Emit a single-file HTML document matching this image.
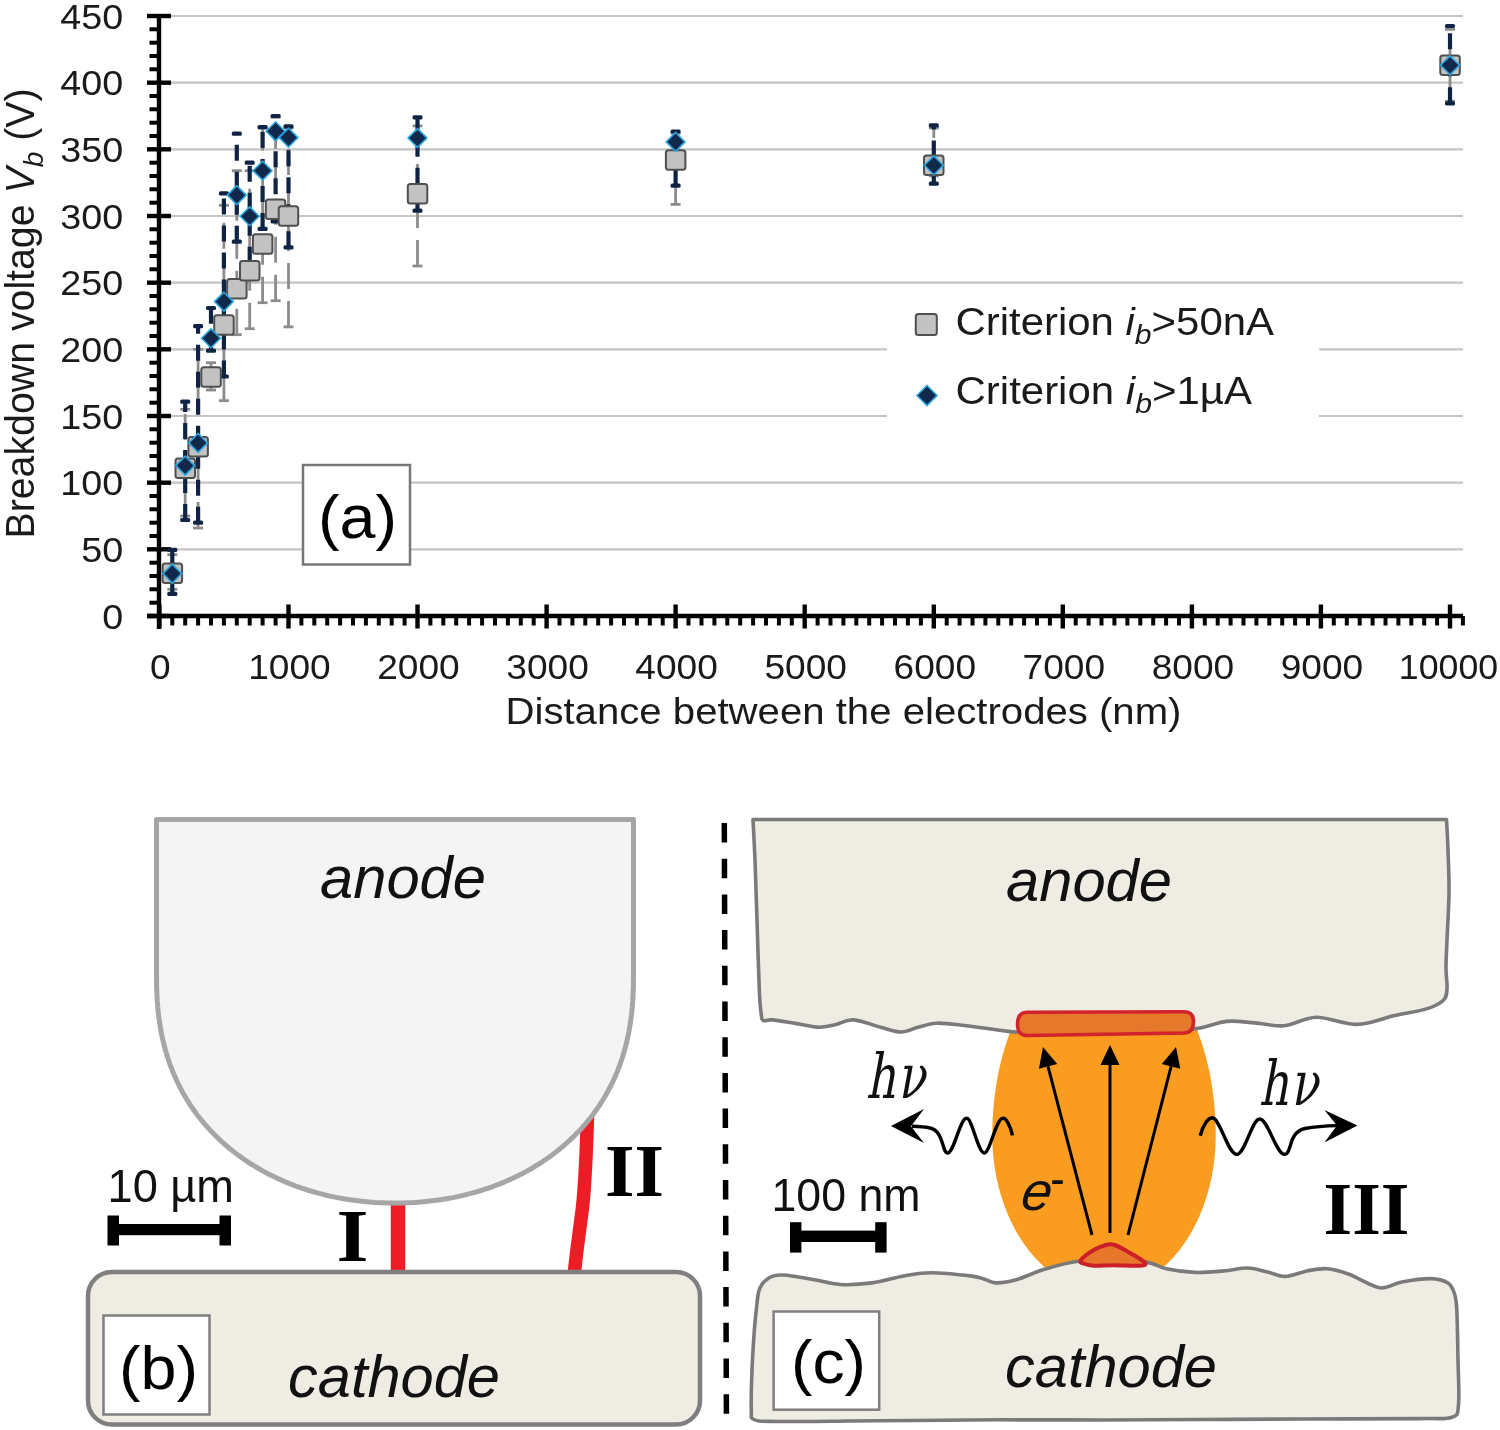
<!DOCTYPE html>
<html><head><meta charset="utf-8"><title>Breakdown voltage vs electrode distance</title>
<style>html,body{margin:0;padding:0;background:#fff;}svg{display:block;}</style></head>
<body>
<svg width="1500" height="1430" viewBox="0 0 1500 1430">
<rect width="1500" height="1430" fill="#fff"/>
<line x1="171" y1="549.3" x2="1463" y2="549.3" stroke="#c4c4c4" stroke-width="2.2"/>
<line x1="171" y1="482.7" x2="1463" y2="482.7" stroke="#c4c4c4" stroke-width="2.2"/>
<line x1="171" y1="416.0" x2="1463" y2="416.0" stroke="#c4c4c4" stroke-width="2.2"/>
<line x1="171" y1="349.3" x2="1463" y2="349.3" stroke="#c4c4c4" stroke-width="2.2"/>
<line x1="171" y1="282.7" x2="1463" y2="282.7" stroke="#c4c4c4" stroke-width="2.2"/>
<line x1="171" y1="216.0" x2="1463" y2="216.0" stroke="#c4c4c4" stroke-width="2.2"/>
<line x1="171" y1="149.3" x2="1463" y2="149.3" stroke="#c4c4c4" stroke-width="2.2"/>
<line x1="171" y1="82.7" x2="1463" y2="82.7" stroke="#c4c4c4" stroke-width="2.2"/>
<line x1="171" y1="16.0" x2="1463" y2="16.0" stroke="#c4c4c4" stroke-width="2.2"/>
<rect x="887" y="292" width="432" height="132" fill="#fff"/>
<line x1="159" y1="14" x2="159" y2="629" stroke="#000" stroke-width="4.4"/>
<line x1="147" y1="616" x2="1463" y2="616" stroke="#000" stroke-width="4.4"/>
<line x1="147" y1="616.0" x2="171" y2="616.0" stroke="#000" stroke-width="4.4"/>
<line x1="147" y1="549.3" x2="171" y2="549.3" stroke="#000" stroke-width="4.4"/>
<line x1="147" y1="482.7" x2="171" y2="482.7" stroke="#000" stroke-width="4.4"/>
<line x1="147" y1="416.0" x2="171" y2="416.0" stroke="#000" stroke-width="4.4"/>
<line x1="147" y1="349.3" x2="171" y2="349.3" stroke="#000" stroke-width="4.4"/>
<line x1="147" y1="282.7" x2="171" y2="282.7" stroke="#000" stroke-width="4.4"/>
<line x1="147" y1="216.0" x2="171" y2="216.0" stroke="#000" stroke-width="4.4"/>
<line x1="147" y1="149.3" x2="171" y2="149.3" stroke="#000" stroke-width="4.4"/>
<line x1="147" y1="82.7" x2="171" y2="82.7" stroke="#000" stroke-width="4.4"/>
<line x1="147" y1="16.0" x2="171" y2="16.0" stroke="#000" stroke-width="4.4"/>
<line x1="149.5" y1="602.7" x2="159" y2="602.7" stroke="#000" stroke-width="4"/>
<line x1="149.5" y1="589.3" x2="159" y2="589.3" stroke="#000" stroke-width="4"/>
<line x1="149.5" y1="576.0" x2="159" y2="576.0" stroke="#000" stroke-width="4"/>
<line x1="149.5" y1="562.7" x2="159" y2="562.7" stroke="#000" stroke-width="4"/>
<line x1="149.5" y1="536.0" x2="159" y2="536.0" stroke="#000" stroke-width="4"/>
<line x1="149.5" y1="522.7" x2="159" y2="522.7" stroke="#000" stroke-width="4"/>
<line x1="149.5" y1="509.3" x2="159" y2="509.3" stroke="#000" stroke-width="4"/>
<line x1="149.5" y1="496.0" x2="159" y2="496.0" stroke="#000" stroke-width="4"/>
<line x1="149.5" y1="469.3" x2="159" y2="469.3" stroke="#000" stroke-width="4"/>
<line x1="149.5" y1="456.0" x2="159" y2="456.0" stroke="#000" stroke-width="4"/>
<line x1="149.5" y1="442.7" x2="159" y2="442.7" stroke="#000" stroke-width="4"/>
<line x1="149.5" y1="429.3" x2="159" y2="429.3" stroke="#000" stroke-width="4"/>
<line x1="149.5" y1="402.7" x2="159" y2="402.7" stroke="#000" stroke-width="4"/>
<line x1="149.5" y1="389.3" x2="159" y2="389.3" stroke="#000" stroke-width="4"/>
<line x1="149.5" y1="376.0" x2="159" y2="376.0" stroke="#000" stroke-width="4"/>
<line x1="149.5" y1="362.7" x2="159" y2="362.7" stroke="#000" stroke-width="4"/>
<line x1="149.5" y1="336.0" x2="159" y2="336.0" stroke="#000" stroke-width="4"/>
<line x1="149.5" y1="322.7" x2="159" y2="322.7" stroke="#000" stroke-width="4"/>
<line x1="149.5" y1="309.3" x2="159" y2="309.3" stroke="#000" stroke-width="4"/>
<line x1="149.5" y1="296.0" x2="159" y2="296.0" stroke="#000" stroke-width="4"/>
<line x1="149.5" y1="269.3" x2="159" y2="269.3" stroke="#000" stroke-width="4"/>
<line x1="149.5" y1="256.0" x2="159" y2="256.0" stroke="#000" stroke-width="4"/>
<line x1="149.5" y1="242.7" x2="159" y2="242.7" stroke="#000" stroke-width="4"/>
<line x1="149.5" y1="229.3" x2="159" y2="229.3" stroke="#000" stroke-width="4"/>
<line x1="149.5" y1="202.7" x2="159" y2="202.7" stroke="#000" stroke-width="4"/>
<line x1="149.5" y1="189.3" x2="159" y2="189.3" stroke="#000" stroke-width="4"/>
<line x1="149.5" y1="176.0" x2="159" y2="176.0" stroke="#000" stroke-width="4"/>
<line x1="149.5" y1="162.7" x2="159" y2="162.7" stroke="#000" stroke-width="4"/>
<line x1="149.5" y1="136.0" x2="159" y2="136.0" stroke="#000" stroke-width="4"/>
<line x1="149.5" y1="122.7" x2="159" y2="122.7" stroke="#000" stroke-width="4"/>
<line x1="149.5" y1="109.3" x2="159" y2="109.3" stroke="#000" stroke-width="4"/>
<line x1="149.5" y1="96.0" x2="159" y2="96.0" stroke="#000" stroke-width="4"/>
<line x1="149.5" y1="69.3" x2="159" y2="69.3" stroke="#000" stroke-width="4"/>
<line x1="149.5" y1="56.0" x2="159" y2="56.0" stroke="#000" stroke-width="4"/>
<line x1="149.5" y1="42.7" x2="159" y2="42.7" stroke="#000" stroke-width="4"/>
<line x1="149.5" y1="29.3" x2="159" y2="29.3" stroke="#000" stroke-width="4"/>
<line x1="159.4" y1="604.5" x2="159.4" y2="628.5" stroke="#000" stroke-width="4.4"/>
<line x1="288.5" y1="604.5" x2="288.5" y2="628.5" stroke="#000" stroke-width="4.4"/>
<line x1="417.5" y1="604.5" x2="417.5" y2="628.5" stroke="#000" stroke-width="4.4"/>
<line x1="546.6" y1="604.5" x2="546.6" y2="628.5" stroke="#000" stroke-width="4.4"/>
<line x1="675.6" y1="604.5" x2="675.6" y2="628.5" stroke="#000" stroke-width="4.4"/>
<line x1="804.7" y1="604.5" x2="804.7" y2="628.5" stroke="#000" stroke-width="4.4"/>
<line x1="933.8" y1="604.5" x2="933.8" y2="628.5" stroke="#000" stroke-width="4.4"/>
<line x1="1062.8" y1="604.5" x2="1062.8" y2="628.5" stroke="#000" stroke-width="4.4"/>
<line x1="1191.9" y1="604.5" x2="1191.9" y2="628.5" stroke="#000" stroke-width="4.4"/>
<line x1="1320.9" y1="604.5" x2="1320.9" y2="628.5" stroke="#000" stroke-width="4.4"/>
<line x1="1450.0" y1="604.5" x2="1450.0" y2="628.5" stroke="#000" stroke-width="4.4"/>
<line x1="172.3" y1="616" x2="172.3" y2="625.5" stroke="#000" stroke-width="4"/>
<line x1="185.2" y1="616" x2="185.2" y2="625.5" stroke="#000" stroke-width="4"/>
<line x1="198.1" y1="616" x2="198.1" y2="625.5" stroke="#000" stroke-width="4"/>
<line x1="211.0" y1="616" x2="211.0" y2="625.5" stroke="#000" stroke-width="4"/>
<line x1="223.9" y1="616" x2="223.9" y2="625.5" stroke="#000" stroke-width="4"/>
<line x1="236.8" y1="616" x2="236.8" y2="625.5" stroke="#000" stroke-width="4"/>
<line x1="249.7" y1="616" x2="249.7" y2="625.5" stroke="#000" stroke-width="4"/>
<line x1="262.6" y1="616" x2="262.6" y2="625.5" stroke="#000" stroke-width="4"/>
<line x1="275.6" y1="616" x2="275.6" y2="625.5" stroke="#000" stroke-width="4"/>
<line x1="301.4" y1="616" x2="301.4" y2="625.5" stroke="#000" stroke-width="4"/>
<line x1="314.3" y1="616" x2="314.3" y2="625.5" stroke="#000" stroke-width="4"/>
<line x1="327.2" y1="616" x2="327.2" y2="625.5" stroke="#000" stroke-width="4"/>
<line x1="340.1" y1="616" x2="340.1" y2="625.5" stroke="#000" stroke-width="4"/>
<line x1="353.0" y1="616" x2="353.0" y2="625.5" stroke="#000" stroke-width="4"/>
<line x1="365.9" y1="616" x2="365.9" y2="625.5" stroke="#000" stroke-width="4"/>
<line x1="378.8" y1="616" x2="378.8" y2="625.5" stroke="#000" stroke-width="4"/>
<line x1="391.7" y1="616" x2="391.7" y2="625.5" stroke="#000" stroke-width="4"/>
<line x1="404.6" y1="616" x2="404.6" y2="625.5" stroke="#000" stroke-width="4"/>
<line x1="430.4" y1="616" x2="430.4" y2="625.5" stroke="#000" stroke-width="4"/>
<line x1="443.3" y1="616" x2="443.3" y2="625.5" stroke="#000" stroke-width="4"/>
<line x1="456.2" y1="616" x2="456.2" y2="625.5" stroke="#000" stroke-width="4"/>
<line x1="469.1" y1="616" x2="469.1" y2="625.5" stroke="#000" stroke-width="4"/>
<line x1="482.1" y1="616" x2="482.1" y2="625.5" stroke="#000" stroke-width="4"/>
<line x1="495.0" y1="616" x2="495.0" y2="625.5" stroke="#000" stroke-width="4"/>
<line x1="507.9" y1="616" x2="507.9" y2="625.5" stroke="#000" stroke-width="4"/>
<line x1="520.8" y1="616" x2="520.8" y2="625.5" stroke="#000" stroke-width="4"/>
<line x1="533.7" y1="616" x2="533.7" y2="625.5" stroke="#000" stroke-width="4"/>
<line x1="559.5" y1="616" x2="559.5" y2="625.5" stroke="#000" stroke-width="4"/>
<line x1="572.4" y1="616" x2="572.4" y2="625.5" stroke="#000" stroke-width="4"/>
<line x1="585.3" y1="616" x2="585.3" y2="625.5" stroke="#000" stroke-width="4"/>
<line x1="598.2" y1="616" x2="598.2" y2="625.5" stroke="#000" stroke-width="4"/>
<line x1="611.1" y1="616" x2="611.1" y2="625.5" stroke="#000" stroke-width="4"/>
<line x1="624.0" y1="616" x2="624.0" y2="625.5" stroke="#000" stroke-width="4"/>
<line x1="636.9" y1="616" x2="636.9" y2="625.5" stroke="#000" stroke-width="4"/>
<line x1="649.8" y1="616" x2="649.8" y2="625.5" stroke="#000" stroke-width="4"/>
<line x1="662.7" y1="616" x2="662.7" y2="625.5" stroke="#000" stroke-width="4"/>
<line x1="688.5" y1="616" x2="688.5" y2="625.5" stroke="#000" stroke-width="4"/>
<line x1="701.5" y1="616" x2="701.5" y2="625.5" stroke="#000" stroke-width="4"/>
<line x1="714.4" y1="616" x2="714.4" y2="625.5" stroke="#000" stroke-width="4"/>
<line x1="727.3" y1="616" x2="727.3" y2="625.5" stroke="#000" stroke-width="4"/>
<line x1="740.2" y1="616" x2="740.2" y2="625.5" stroke="#000" stroke-width="4"/>
<line x1="753.1" y1="616" x2="753.1" y2="625.5" stroke="#000" stroke-width="4"/>
<line x1="766.0" y1="616" x2="766.0" y2="625.5" stroke="#000" stroke-width="4"/>
<line x1="778.9" y1="616" x2="778.9" y2="625.5" stroke="#000" stroke-width="4"/>
<line x1="791.8" y1="616" x2="791.8" y2="625.5" stroke="#000" stroke-width="4"/>
<line x1="817.6" y1="616" x2="817.6" y2="625.5" stroke="#000" stroke-width="4"/>
<line x1="830.5" y1="616" x2="830.5" y2="625.5" stroke="#000" stroke-width="4"/>
<line x1="843.4" y1="616" x2="843.4" y2="625.5" stroke="#000" stroke-width="4"/>
<line x1="856.3" y1="616" x2="856.3" y2="625.5" stroke="#000" stroke-width="4"/>
<line x1="869.2" y1="616" x2="869.2" y2="625.5" stroke="#000" stroke-width="4"/>
<line x1="882.1" y1="616" x2="882.1" y2="625.5" stroke="#000" stroke-width="4"/>
<line x1="895.0" y1="616" x2="895.0" y2="625.5" stroke="#000" stroke-width="4"/>
<line x1="907.9" y1="616" x2="907.9" y2="625.5" stroke="#000" stroke-width="4"/>
<line x1="920.9" y1="616" x2="920.9" y2="625.5" stroke="#000" stroke-width="4"/>
<line x1="946.7" y1="616" x2="946.7" y2="625.5" stroke="#000" stroke-width="4"/>
<line x1="959.6" y1="616" x2="959.6" y2="625.5" stroke="#000" stroke-width="4"/>
<line x1="972.5" y1="616" x2="972.5" y2="625.5" stroke="#000" stroke-width="4"/>
<line x1="985.4" y1="616" x2="985.4" y2="625.5" stroke="#000" stroke-width="4"/>
<line x1="998.3" y1="616" x2="998.3" y2="625.5" stroke="#000" stroke-width="4"/>
<line x1="1011.2" y1="616" x2="1011.2" y2="625.5" stroke="#000" stroke-width="4"/>
<line x1="1024.1" y1="616" x2="1024.1" y2="625.5" stroke="#000" stroke-width="4"/>
<line x1="1037.0" y1="616" x2="1037.0" y2="625.5" stroke="#000" stroke-width="4"/>
<line x1="1049.9" y1="616" x2="1049.9" y2="625.5" stroke="#000" stroke-width="4"/>
<line x1="1075.7" y1="616" x2="1075.7" y2="625.5" stroke="#000" stroke-width="4"/>
<line x1="1088.6" y1="616" x2="1088.6" y2="625.5" stroke="#000" stroke-width="4"/>
<line x1="1101.5" y1="616" x2="1101.5" y2="625.5" stroke="#000" stroke-width="4"/>
<line x1="1114.4" y1="616" x2="1114.4" y2="625.5" stroke="#000" stroke-width="4"/>
<line x1="1127.4" y1="616" x2="1127.4" y2="625.5" stroke="#000" stroke-width="4"/>
<line x1="1140.3" y1="616" x2="1140.3" y2="625.5" stroke="#000" stroke-width="4"/>
<line x1="1153.2" y1="616" x2="1153.2" y2="625.5" stroke="#000" stroke-width="4"/>
<line x1="1166.1" y1="616" x2="1166.1" y2="625.5" stroke="#000" stroke-width="4"/>
<line x1="1179.0" y1="616" x2="1179.0" y2="625.5" stroke="#000" stroke-width="4"/>
<line x1="1204.8" y1="616" x2="1204.8" y2="625.5" stroke="#000" stroke-width="4"/>
<line x1="1217.7" y1="616" x2="1217.7" y2="625.5" stroke="#000" stroke-width="4"/>
<line x1="1230.6" y1="616" x2="1230.6" y2="625.5" stroke="#000" stroke-width="4"/>
<line x1="1243.5" y1="616" x2="1243.5" y2="625.5" stroke="#000" stroke-width="4"/>
<line x1="1256.4" y1="616" x2="1256.4" y2="625.5" stroke="#000" stroke-width="4"/>
<line x1="1269.3" y1="616" x2="1269.3" y2="625.5" stroke="#000" stroke-width="4"/>
<line x1="1282.2" y1="616" x2="1282.2" y2="625.5" stroke="#000" stroke-width="4"/>
<line x1="1295.1" y1="616" x2="1295.1" y2="625.5" stroke="#000" stroke-width="4"/>
<line x1="1308.0" y1="616" x2="1308.0" y2="625.5" stroke="#000" stroke-width="4"/>
<line x1="1333.8" y1="616" x2="1333.8" y2="625.5" stroke="#000" stroke-width="4"/>
<line x1="1346.8" y1="616" x2="1346.8" y2="625.5" stroke="#000" stroke-width="4"/>
<line x1="1359.7" y1="616" x2="1359.7" y2="625.5" stroke="#000" stroke-width="4"/>
<line x1="1372.6" y1="616" x2="1372.6" y2="625.5" stroke="#000" stroke-width="4"/>
<line x1="1385.5" y1="616" x2="1385.5" y2="625.5" stroke="#000" stroke-width="4"/>
<line x1="1398.4" y1="616" x2="1398.4" y2="625.5" stroke="#000" stroke-width="4"/>
<line x1="1411.3" y1="616" x2="1411.3" y2="625.5" stroke="#000" stroke-width="4"/>
<line x1="1424.2" y1="616" x2="1424.2" y2="625.5" stroke="#000" stroke-width="4"/>
<line x1="1437.1" y1="616" x2="1437.1" y2="625.5" stroke="#000" stroke-width="4"/>
<line x1="1462.9" y1="616" x2="1462.9" y2="625.5" stroke="#000" stroke-width="4"/>
<line x1="172.3" y1="589.3" x2="172.3" y2="554.7" stroke="#8c8c8c" stroke-width="2.8" stroke-dasharray="26 12"/>
<line x1="167.3" y1="589.3" x2="177.3" y2="589.3" stroke="#8c8c8c" stroke-width="2.8"/>
<line x1="167.3" y1="554.7" x2="177.3" y2="554.7" stroke="#8c8c8c" stroke-width="2.8"/>
<line x1="185.2" y1="516.0" x2="185.2" y2="409.3" stroke="#8c8c8c" stroke-width="2.8" stroke-dasharray="26 12"/>
<line x1="180.2" y1="516.0" x2="190.2" y2="516.0" stroke="#8c8c8c" stroke-width="2.8"/>
<line x1="180.2" y1="409.3" x2="190.2" y2="409.3" stroke="#8c8c8c" stroke-width="2.8"/>
<line x1="198.1" y1="528.0" x2="198.1" y2="349.3" stroke="#8c8c8c" stroke-width="2.8" stroke-dasharray="26 12"/>
<line x1="193.1" y1="528.0" x2="203.1" y2="528.0" stroke="#8c8c8c" stroke-width="2.8"/>
<line x1="193.1" y1="349.3" x2="203.1" y2="349.3" stroke="#8c8c8c" stroke-width="2.8"/>
<line x1="211.0" y1="390.0" x2="211.0" y2="362.7" stroke="#8c8c8c" stroke-width="2.8" stroke-dasharray="26 12"/>
<line x1="206.0" y1="390.0" x2="216.0" y2="390.0" stroke="#8c8c8c" stroke-width="2.8"/>
<line x1="206.0" y1="362.7" x2="216.0" y2="362.7" stroke="#8c8c8c" stroke-width="2.8"/>
<line x1="223.9" y1="400.7" x2="223.9" y2="205.3" stroke="#8c8c8c" stroke-width="2.8" stroke-dasharray="26 12"/>
<line x1="218.9" y1="400.7" x2="228.9" y2="400.7" stroke="#8c8c8c" stroke-width="2.8"/>
<line x1="218.9" y1="205.3" x2="228.9" y2="205.3" stroke="#8c8c8c" stroke-width="2.8"/>
<line x1="236.8" y1="334.7" x2="236.8" y2="170.7" stroke="#8c8c8c" stroke-width="2.8" stroke-dasharray="26 12"/>
<line x1="231.8" y1="334.7" x2="241.8" y2="334.7" stroke="#8c8c8c" stroke-width="2.8"/>
<line x1="231.8" y1="170.7" x2="241.8" y2="170.7" stroke="#8c8c8c" stroke-width="2.8"/>
<line x1="249.7" y1="328.7" x2="249.7" y2="170.7" stroke="#8c8c8c" stroke-width="2.8" stroke-dasharray="26 12"/>
<line x1="244.7" y1="328.7" x2="254.7" y2="328.7" stroke="#8c8c8c" stroke-width="2.8"/>
<line x1="244.7" y1="170.7" x2="254.7" y2="170.7" stroke="#8c8c8c" stroke-width="2.8"/>
<line x1="262.6" y1="302.7" x2="262.6" y2="128.0" stroke="#8c8c8c" stroke-width="2.8" stroke-dasharray="26 12"/>
<line x1="257.6" y1="302.7" x2="267.6" y2="302.7" stroke="#8c8c8c" stroke-width="2.8"/>
<line x1="257.6" y1="128.0" x2="267.6" y2="128.0" stroke="#8c8c8c" stroke-width="2.8"/>
<line x1="275.6" y1="300.7" x2="275.6" y2="117.3" stroke="#8c8c8c" stroke-width="2.8" stroke-dasharray="26 12"/>
<line x1="270.6" y1="300.7" x2="280.6" y2="300.7" stroke="#8c8c8c" stroke-width="2.8"/>
<line x1="270.6" y1="117.3" x2="280.6" y2="117.3" stroke="#8c8c8c" stroke-width="2.8"/>
<line x1="288.5" y1="326.9" x2="288.5" y2="128.0" stroke="#8c8c8c" stroke-width="2.8" stroke-dasharray="26 12"/>
<line x1="283.5" y1="326.9" x2="293.5" y2="326.9" stroke="#8c8c8c" stroke-width="2.8"/>
<line x1="283.5" y1="128.0" x2="293.5" y2="128.0" stroke="#8c8c8c" stroke-width="2.8"/>
<line x1="417.5" y1="266.0" x2="417.5" y2="125.9" stroke="#8c8c8c" stroke-width="2.8" stroke-dasharray="26 12"/>
<line x1="412.5" y1="266.0" x2="422.5" y2="266.0" stroke="#8c8c8c" stroke-width="2.8"/>
<line x1="412.5" y1="125.9" x2="422.5" y2="125.9" stroke="#8c8c8c" stroke-width="2.8"/>
<line x1="675.6" y1="204.4" x2="675.6" y2="133.3" stroke="#8c8c8c" stroke-width="2.8" stroke-dasharray="26 12"/>
<line x1="670.6" y1="204.4" x2="680.6" y2="204.4" stroke="#8c8c8c" stroke-width="2.8"/>
<line x1="670.6" y1="133.3" x2="680.6" y2="133.3" stroke="#8c8c8c" stroke-width="2.8"/>
<line x1="933.8" y1="176.0" x2="933.8" y2="128.0" stroke="#8c8c8c" stroke-width="2.8" stroke-dasharray="26 12"/>
<line x1="928.8" y1="176.0" x2="938.8" y2="176.0" stroke="#8c8c8c" stroke-width="2.8"/>
<line x1="928.8" y1="128.0" x2="938.8" y2="128.0" stroke="#8c8c8c" stroke-width="2.8"/>
<line x1="1450.0" y1="101.3" x2="1450.0" y2="29.3" stroke="#8c8c8c" stroke-width="2.8" stroke-dasharray="26 12"/>
<line x1="1445.0" y1="101.3" x2="1455.0" y2="101.3" stroke="#8c8c8c" stroke-width="2.8"/>
<line x1="1445.0" y1="29.3" x2="1455.0" y2="29.3" stroke="#8c8c8c" stroke-width="2.8"/>
<line x1="172.3" y1="593.9" x2="172.3" y2="549.9" stroke="#0f2444" stroke-width="4.2" stroke-dasharray="16 11"/>
<rect x="167.3" y="591.8" width="10" height="4.2" rx="1.5" fill="#0f2444"/>
<rect x="167.3" y="547.8" width="10" height="4.2" rx="1.5" fill="#0f2444"/>
<line x1="185.2" y1="520.0" x2="185.2" y2="401.7" stroke="#0f2444" stroke-width="4.2" stroke-dasharray="16 11"/>
<rect x="180.2" y="517.9" width="10" height="4.2" rx="1.5" fill="#0f2444"/>
<rect x="180.2" y="399.6" width="10" height="4.2" rx="1.5" fill="#0f2444"/>
<line x1="198.1" y1="522.7" x2="198.1" y2="326.1" stroke="#0f2444" stroke-width="4.2" stroke-dasharray="16 11"/>
<rect x="193.1" y="520.6" width="10" height="4.2" rx="1.5" fill="#0f2444"/>
<rect x="193.1" y="324.0" width="10" height="4.2" rx="1.5" fill="#0f2444"/>
<line x1="211.0" y1="350.7" x2="211.0" y2="308.0" stroke="#0f2444" stroke-width="4.2" stroke-dasharray="16 11"/>
<rect x="206.0" y="348.6" width="10" height="4.2" rx="1.5" fill="#0f2444"/>
<rect x="206.0" y="305.9" width="10" height="4.2" rx="1.5" fill="#0f2444"/>
<line x1="223.9" y1="376.5" x2="223.9" y2="193.3" stroke="#0f2444" stroke-width="4.2" stroke-dasharray="16 11"/>
<rect x="218.9" y="374.4" width="10" height="4.2" rx="1.5" fill="#0f2444"/>
<rect x="218.9" y="191.2" width="10" height="4.2" rx="1.5" fill="#0f2444"/>
<line x1="236.8" y1="241.7" x2="236.8" y2="133.6" stroke="#0f2444" stroke-width="4.2" stroke-dasharray="16 11"/>
<rect x="231.8" y="239.6" width="10" height="4.2" rx="1.5" fill="#0f2444"/>
<rect x="231.8" y="131.5" width="10" height="4.2" rx="1.5" fill="#0f2444"/>
<line x1="249.7" y1="262.7" x2="249.7" y2="162.7" stroke="#0f2444" stroke-width="4.2" stroke-dasharray="16 11"/>
<rect x="244.7" y="260.6" width="10" height="4.2" rx="1.5" fill="#0f2444"/>
<rect x="244.7" y="160.6" width="10" height="4.2" rx="1.5" fill="#0f2444"/>
<line x1="262.6" y1="228.9" x2="262.6" y2="127.1" stroke="#0f2444" stroke-width="4.2" stroke-dasharray="16 11"/>
<rect x="257.6" y="226.8" width="10" height="4.2" rx="1.5" fill="#0f2444"/>
<rect x="257.6" y="125.0" width="10" height="4.2" rx="1.5" fill="#0f2444"/>
<line x1="275.6" y1="221.3" x2="275.6" y2="116.0" stroke="#0f2444" stroke-width="4.2" stroke-dasharray="16 11"/>
<rect x="270.6" y="219.2" width="10" height="4.2" rx="1.5" fill="#0f2444"/>
<rect x="270.6" y="113.9" width="10" height="4.2" rx="1.5" fill="#0f2444"/>
<line x1="288.5" y1="247.3" x2="288.5" y2="126.4" stroke="#0f2444" stroke-width="4.2" stroke-dasharray="16 11"/>
<rect x="283.5" y="245.2" width="10" height="4.2" rx="1.5" fill="#0f2444"/>
<rect x="283.5" y="124.3" width="10" height="4.2" rx="1.5" fill="#0f2444"/>
<line x1="417.5" y1="210.7" x2="417.5" y2="117.3" stroke="#0f2444" stroke-width="4.2" stroke-dasharray="16 11"/>
<rect x="412.5" y="208.6" width="10" height="4.2" rx="1.5" fill="#0f2444"/>
<rect x="412.5" y="115.2" width="10" height="4.2" rx="1.5" fill="#0f2444"/>
<line x1="675.6" y1="185.6" x2="675.6" y2="131.5" stroke="#0f2444" stroke-width="4.2" stroke-dasharray="16 11"/>
<rect x="670.6" y="183.5" width="10" height="4.2" rx="1.5" fill="#0f2444"/>
<rect x="670.6" y="129.4" width="10" height="4.2" rx="1.5" fill="#0f2444"/>
<line x1="933.8" y1="183.6" x2="933.8" y2="125.3" stroke="#0f2444" stroke-width="4.2" stroke-dasharray="16 11"/>
<rect x="928.8" y="181.5" width="10" height="4.2" rx="1.5" fill="#0f2444"/>
<rect x="928.8" y="123.2" width="10" height="4.2" rx="1.5" fill="#0f2444"/>
<line x1="1450.0" y1="103.3" x2="1450.0" y2="26.0" stroke="#0f2444" stroke-width="4.2" stroke-dasharray="16 11"/>
<rect x="1445.0" y="101.2" width="10" height="4.2" rx="1.5" fill="#0f2444"/>
<rect x="1445.0" y="23.9" width="10" height="4.2" rx="1.5" fill="#0f2444"/>
<rect x="162.6" y="563.6" width="19.5" height="19.5" rx="2.5" fill="#c2c2c2" stroke="#4f4f4f" stroke-width="2"/>
<rect x="175.5" y="458.6" width="19.5" height="19.5" rx="2.5" fill="#c2c2c2" stroke="#4f4f4f" stroke-width="2"/>
<rect x="188.4" y="436.9" width="19.5" height="19.5" rx="2.5" fill="#c2c2c2" stroke="#4f4f4f" stroke-width="2"/>
<rect x="201.3" y="367.3" width="19.5" height="19.5" rx="2.5" fill="#c2c2c2" stroke="#4f4f4f" stroke-width="2"/>
<rect x="214.2" y="315.3" width="19.5" height="19.5" rx="2.5" fill="#c2c2c2" stroke="#4f4f4f" stroke-width="2"/>
<rect x="227.1" y="278.9" width="19.5" height="19.5" rx="2.5" fill="#c2c2c2" stroke="#4f4f4f" stroke-width="2"/>
<rect x="240.0" y="261.1" width="19.5" height="19.5" rx="2.5" fill="#c2c2c2" stroke="#4f4f4f" stroke-width="2"/>
<rect x="252.9" y="234.2" width="19.5" height="19.5" rx="2.5" fill="#c2c2c2" stroke="#4f4f4f" stroke-width="2"/>
<rect x="265.8" y="199.6" width="19.5" height="19.5" rx="2.5" fill="#c2c2c2" stroke="#4f4f4f" stroke-width="2"/>
<rect x="278.7" y="206.2" width="19.5" height="19.5" rx="2.5" fill="#c2c2c2" stroke="#4f4f4f" stroke-width="2"/>
<rect x="407.8" y="184.0" width="19.5" height="19.5" rx="2.5" fill="#c2c2c2" stroke="#4f4f4f" stroke-width="2"/>
<rect x="665.9" y="150.2" width="19.5" height="19.5" rx="2.5" fill="#c2c2c2" stroke="#4f4f4f" stroke-width="2"/>
<rect x="924.0" y="155.6" width="19.5" height="19.5" rx="2.5" fill="#c2c2c2" stroke="#4f4f4f" stroke-width="2"/>
<rect x="1440.3" y="55.6" width="19.5" height="19.5" rx="2.5" fill="#c2c2c2" stroke="#4f4f4f" stroke-width="2"/>
<path d="M172.3 564.2L181.7 573.6L172.3 583.0L162.9 573.6Z" fill="#11284b" stroke="#29a6e0" stroke-width="1.6"/>
<path d="M185.2 456.2L194.6 465.6L185.2 475.0L175.8 465.6Z" fill="#11284b" stroke="#29a6e0" stroke-width="1.6"/>
<path d="M198.1 433.5L207.5 442.9L198.1 452.3L188.7 442.9Z" fill="#11284b" stroke="#29a6e0" stroke-width="1.6"/>
<path d="M211.0 328.9L220.4 338.3L211.0 347.7L201.6 338.3Z" fill="#11284b" stroke="#29a6e0" stroke-width="1.6"/>
<path d="M223.9 292.2L233.3 301.6L223.9 311.0L214.5 301.6Z" fill="#11284b" stroke="#29a6e0" stroke-width="1.6"/>
<path d="M236.8 185.7L246.2 195.1L236.8 204.5L227.4 195.1Z" fill="#11284b" stroke="#29a6e0" stroke-width="1.6"/>
<path d="M249.7 206.9L259.1 216.3L249.7 225.7L240.3 216.3Z" fill="#11284b" stroke="#29a6e0" stroke-width="1.6"/>
<path d="M262.6 161.3L272.0 170.7L262.6 180.1L253.2 170.7Z" fill="#11284b" stroke="#29a6e0" stroke-width="1.6"/>
<path d="M275.6 121.8L285.0 131.2L275.6 140.6L266.2 131.2Z" fill="#11284b" stroke="#29a6e0" stroke-width="1.6"/>
<path d="M288.5 128.2L297.9 137.6L288.5 147.0L279.1 137.6Z" fill="#11284b" stroke="#29a6e0" stroke-width="1.6"/>
<path d="M417.5 128.6L426.9 138.0L417.5 147.4L408.1 138.0Z" fill="#11284b" stroke="#29a6e0" stroke-width="1.6"/>
<path d="M675.6 132.5L685.0 141.9L675.6 151.3L666.2 141.9Z" fill="#11284b" stroke="#29a6e0" stroke-width="1.6"/>
<path d="M933.8 155.9L943.2 165.3L933.8 174.7L924.4 165.3Z" fill="#11284b" stroke="#29a6e0" stroke-width="1.6"/>
<path d="M1450.0 55.9L1459.4 65.3L1450.0 74.7L1440.6 65.3Z" fill="#11284b" stroke="#29a6e0" stroke-width="1.6"/>
<rect x="915.8" y="314.0" width="21" height="21" rx="2.5" fill="#c2c2c2" stroke="#4f4f4f" stroke-width="2"/>
<path d="M927.0 385.5L937.0 395.5L927.0 405.5L917.0 395.5Z" fill="#11284b" stroke="#29a6e0" stroke-width="1.6"/>
<g font-family="'Liberation Sans', Arial, sans-serif" font-size="34.5" fill="#1a1a1a"><text x="0" y="0" font-size="35.5" transform="translate(123.2,628.6) scale(1.062,1)" text-anchor="end">0</text><text x="0" y="0" font-size="35.5" transform="translate(123.2,561.9) scale(1.062,1)" text-anchor="end">50</text><text x="0" y="0" font-size="35.5" transform="translate(123.2,495.3) scale(1.062,1)" text-anchor="end">100</text><text x="0" y="0" font-size="35.5" transform="translate(123.2,428.6) scale(1.062,1)" text-anchor="end">150</text><text x="0" y="0" font-size="35.5" transform="translate(123.2,361.9) scale(1.062,1)" text-anchor="end">200</text><text x="0" y="0" font-size="35.5" transform="translate(123.2,295.3) scale(1.062,1)" text-anchor="end">250</text><text x="0" y="0" font-size="35.5" transform="translate(123.2,228.6) scale(1.062,1)" text-anchor="end">300</text><text x="0" y="0" font-size="35.5" transform="translate(123.2,161.9) scale(1.062,1)" text-anchor="end">350</text><text x="0" y="0" font-size="35.5" transform="translate(123.2,95.3) scale(1.062,1)" text-anchor="end">400</text><text x="0" y="0" font-size="35.5" transform="translate(123.2,28.6) scale(1.062,1)" text-anchor="end">450</text><text x="0" y="0" font-size="35.5" transform="translate(160.4,679.0) scale(1.045,1)" text-anchor="middle">0</text><text x="0" y="0" font-size="35.5" transform="translate(289.5,679.0) scale(1.045,1)" text-anchor="middle">1000</text><text x="0" y="0" font-size="35.5" transform="translate(418.5,679.0) scale(1.045,1)" text-anchor="middle">2000</text><text x="0" y="0" font-size="35.5" transform="translate(547.6,679.0) scale(1.045,1)" text-anchor="middle">3000</text><text x="0" y="0" font-size="35.5" transform="translate(676.6,679.0) scale(1.045,1)" text-anchor="middle">4000</text><text x="0" y="0" font-size="35.5" transform="translate(805.7,679.0) scale(1.045,1)" text-anchor="middle">5000</text><text x="0" y="0" font-size="35.5" transform="translate(934.8,679.0) scale(1.045,1)" text-anchor="middle">6000</text><text x="0" y="0" font-size="35.5" transform="translate(1063.8,679.0) scale(1.045,1)" text-anchor="middle">7000</text><text x="0" y="0" font-size="35.5" transform="translate(1192.9,679.0) scale(1.045,1)" text-anchor="middle">8000</text><text x="0" y="0" font-size="35.5" transform="translate(1321.9,679.0) scale(1.045,1)" text-anchor="middle">9000</text><text x="0" y="0" font-size="35.5" transform="translate(1448.5,679.0) scale(1.006,1)" text-anchor="middle">10000</text></g>
<text x="505.5" y="723.6" font-family="'Liberation Sans', Arial, sans-serif" font-size="36.5" fill="#1a1a1a" textLength="676" lengthAdjust="spacingAndGlyphs">Distance between the electrodes (nm)</text>
<text transform="translate(34,538.5) scale(1.09,1) rotate(-90)" font-family="'Liberation Sans', Arial, sans-serif" font-size="36.5" fill="#1a1a1a" textLength="450" lengthAdjust="spacingAndGlyphs">Breakdown voltage <tspan font-style="italic">V</tspan><tspan font-style="italic" font-size="26" dy="8">b</tspan><tspan dy="-8"> (V)</tspan></text>
<text x="955.5" y="335" font-family="'Liberation Sans', Arial, sans-serif" font-size="39" fill="#1a1a1a" textLength="318.5" lengthAdjust="spacingAndGlyphs">Criterion <tspan font-style="italic">i</tspan><tspan font-style="italic" font-size="28" dy="9">b</tspan><tspan dy="-9">&gt;50nA</tspan></text>
<text x="955.5" y="404" font-family="'Liberation Sans', Arial, sans-serif" font-size="39" fill="#1a1a1a" textLength="296.5" lengthAdjust="spacingAndGlyphs">Criterion <tspan font-style="italic">i</tspan><tspan font-style="italic" font-size="28" dy="9">b</tspan><tspan dy="-9">&gt;1µA</tspan></text>
<rect x="303" y="465" width="107" height="99.5" fill="#fff" stroke="#777" stroke-width="2.5"/>
<text x="318" y="538.3" font-family="'Liberation Sans', Arial, sans-serif" font-size="61" fill="#000" textLength="79" lengthAdjust="spacingAndGlyphs">(a)</text>
<path d="M398 1195 L398 1272" stroke="#ee1c25" stroke-width="14.5" fill="none"/>
<path d="M588 1100 C586.5 1150 585.5 1190 581.5 1215 C579 1235 576 1255 574.5 1272" stroke="#ee1c25" stroke-width="13.5" fill="none"/>
<path d="M156.5 819.5 H633.5 L633.50 974.00 L633.42 984.31 L633.18 992.60 L632.78 1000.25 L632.23 1007.51 L631.51 1014.48 L630.63 1021.22 L629.60 1027.78 L628.41 1034.16 L627.07 1040.39 L625.57 1046.49 L623.91 1052.45 L622.10 1058.29 L620.14 1064.01 L618.03 1069.62 L615.77 1075.11 L613.36 1080.50 L610.81 1085.77 L608.10 1090.94 L605.26 1096.00 L602.27 1100.95 L599.15 1105.80 L595.88 1110.54 L592.48 1115.17 L588.95 1119.69 L585.29 1124.10 L581.49 1128.41 L577.57 1132.60 L573.53 1136.68 L569.36 1140.65 L565.08 1144.51 L560.67 1148.25 L556.16 1151.87 L551.53 1155.38 L546.80 1158.78 L541.96 1162.05 L537.02 1165.21 L531.97 1168.24 L526.84 1171.15 L521.60 1173.95 L516.28 1176.61 L510.87 1179.16 L505.38 1181.58 L499.81 1183.87 L494.16 1186.04 L488.43 1188.08 L482.64 1189.99 L476.77 1191.77 L470.84 1193.43 L464.85 1194.95 L458.80 1196.34 L452.69 1197.60 L446.52 1198.73 L440.31 1199.73 L434.04 1200.60 L427.72 1201.33 L421.34 1201.93 L414.91 1202.40 L408.41 1202.73 L401.82 1202.93 L395.00 1203.00 L388.18 1202.93 L381.59 1202.73 L375.09 1202.40 L368.66 1201.93 L362.28 1201.33 L355.96 1200.60 L349.69 1199.73 L343.48 1198.73 L337.31 1197.60 L331.20 1196.34 L325.15 1194.95 L319.16 1193.43 L313.23 1191.77 L307.36 1189.99 L301.57 1188.08 L295.84 1186.04 L290.19 1183.87 L284.62 1181.58 L279.13 1179.16 L273.72 1176.61 L268.40 1173.95 L263.16 1171.15 L258.03 1168.24 L252.98 1165.21 L248.04 1162.05 L243.20 1158.78 L238.47 1155.38 L233.84 1151.87 L229.33 1148.25 L224.92 1144.51 L220.64 1140.65 L216.47 1136.68 L212.43 1132.60 L208.51 1128.41 L204.71 1124.10 L201.05 1119.69 L197.52 1115.17 L194.12 1110.54 L190.85 1105.80 L187.73 1100.95 L184.74 1096.00 L181.90 1090.94 L179.19 1085.77 L176.64 1080.50 L174.23 1075.11 L171.97 1069.62 L169.86 1064.01 L167.90 1058.29 L166.09 1052.45 L164.43 1046.49 L162.93 1040.39 L161.59 1034.16 L160.40 1027.78 L159.37 1021.22 L158.49 1014.48 L157.77 1007.51 L157.22 1000.25 L156.82 992.60 L156.58 984.31 L156.50 974.00 Z" fill="#f4f4f4" stroke="#a6a6a6" stroke-width="5" stroke-linejoin="round"/>
<text x="320" y="897.5" font-family="'Liberation Sans', Arial, sans-serif" font-style="italic" font-size="60" fill="#111" textLength="166" lengthAdjust="spacingAndGlyphs">anode</text>
<rect x="88" y="1272" width="612" height="152.5" rx="24" fill="#efede3" stroke="#7f7f7f" stroke-width="4.5"/>
<rect x="103.5" y="1315.5" width="106" height="99" fill="#fff" stroke="#7f7f7f" stroke-width="2.5"/>
<text x="119" y="1389" font-family="'Liberation Sans', Arial, sans-serif" font-size="61" fill="#000" textLength="79" lengthAdjust="spacingAndGlyphs">(b)</text>
<text x="288" y="1396.7" font-family="'Liberation Sans', Arial, sans-serif" font-style="italic" font-size="60" fill="#111" textLength="212" lengthAdjust="spacingAndGlyphs">cathode</text>
<text x="336.5" y="1260.5" font-family="'Liberation Serif', 'Times New Roman', serif" font-weight="bold" font-size="74" fill="#000" textLength="32" lengthAdjust="spacingAndGlyphs">I</text>
<text x="605" y="1195.7" font-family="'Liberation Serif', 'Times New Roman', serif" font-weight="bold" font-size="74" fill="#000" textLength="59" lengthAdjust="spacingAndGlyphs">II</text>
<rect x="107.5" y="1215.5" width="11.5" height="30" fill="#000"/><rect x="219.5" y="1215.5" width="11.5" height="30" fill="#000"/><rect x="112" y="1224" width="114" height="11.2" fill="#000"/>
<text x="107.5" y="1201.6" font-family="'Liberation Sans', Arial, sans-serif" font-size="46.5" fill="#111" textLength="126.5" lengthAdjust="spacingAndGlyphs">10 µm</text>
<line x1="724.3" y1="823" x2="726.4" y2="1416" stroke="#000" stroke-width="5.5" stroke-dasharray="19.5 16.2"/>
<path d="M1195.5 1026.0 L1196.3 1028.0 L1197.1 1030.0 L1197.9 1032.0 L1198.6 1034.0 L1199.3 1036.0 L1200.0 1038.0 L1200.7 1040.0 L1201.4 1042.0 L1202.1 1044.0 L1202.7 1046.0 L1203.3 1048.0 L1203.9 1050.0 L1204.5 1052.0 L1205.0 1054.0 L1205.6 1056.0 L1206.1 1058.0 L1206.6 1060.0 L1207.1 1062.0 L1207.6 1064.0 L1208.1 1066.0 L1208.5 1068.0 L1209.0 1070.0 L1209.4 1072.0 L1209.8 1074.0 L1210.2 1076.0 L1210.6 1078.0 L1210.9 1080.0 L1211.3 1082.0 L1211.6 1084.0 L1211.9 1086.0 L1212.2 1088.0 L1212.5 1090.0 L1212.8 1092.0 L1213.1 1094.0 L1213.3 1096.0 L1213.6 1098.0 L1213.8 1100.0 L1214.0 1102.0 L1214.2 1104.0 L1214.4 1106.0 L1214.6 1108.0 L1214.7 1110.0 L1214.9 1112.0 L1215.0 1114.0 L1215.1 1116.0 L1215.3 1118.0 L1215.4 1120.0 L1215.4 1122.0 L1215.5 1124.0 L1215.6 1126.0 L1215.6 1128.0 L1215.7 1130.0 L1215.7 1132.0 L1215.7 1134.0 L1215.7 1136.0 L1215.7 1138.0 L1215.6 1140.0 L1215.6 1142.0 L1215.5 1144.0 L1215.4 1146.0 L1215.3 1148.0 L1215.2 1150.0 L1215.0 1152.0 L1214.9 1154.0 L1214.7 1156.0 L1214.5 1158.0 L1214.3 1160.0 L1214.0 1162.0 L1213.8 1164.0 L1213.5 1166.0 L1213.2 1168.0 L1212.9 1170.0 L1212.5 1172.0 L1212.2 1174.0 L1211.8 1176.0 L1211.4 1178.0 L1211.0 1180.0 L1210.5 1182.0 L1210.0 1184.0 L1209.6 1186.0 L1209.1 1188.0 L1208.5 1190.0 L1208.0 1192.0 L1207.4 1194.0 L1206.8 1196.0 L1206.2 1198.0 L1205.5 1200.0 L1204.9 1202.0 L1204.2 1204.0 L1203.5 1206.0 L1202.7 1208.0 L1201.9 1210.0 L1201.1 1212.0 L1200.3 1214.0 L1199.5 1216.0 L1198.6 1218.0 L1197.7 1220.0 L1196.7 1222.0 L1195.7 1224.0 L1194.7 1226.0 L1193.7 1228.0 L1192.6 1230.0 L1191.5 1232.0 L1190.3 1234.0 L1189.1 1236.0 L1187.9 1238.0 L1186.6 1240.0 L1185.3 1242.0 L1183.9 1244.0 L1182.5 1246.0 L1181.0 1248.0 L1179.5 1250.0 L1177.9 1252.0 L1176.2 1254.0 L1174.5 1256.0 L1172.7 1258.0 L1170.8 1260.0 L1168.9 1262.0 L1166.8 1264.0 L1164.7 1266.0 L1162.4 1268.0 L1160.0 1270.0 L1157.4 1272.0 L1154.7 1274.0 L1151.8 1276.0 L1148.6 1278.0 L1145.2 1280.0 L1062.8 1280.0 L1059.4 1278.0 L1056.2 1276.0 L1053.3 1274.0 L1050.6 1272.0 L1048.0 1270.0 L1045.6 1268.0 L1043.3 1266.0 L1041.2 1264.0 L1039.1 1262.0 L1037.2 1260.0 L1035.3 1258.0 L1033.5 1256.0 L1031.8 1254.0 L1030.1 1252.0 L1028.5 1250.0 L1027.0 1248.0 L1025.5 1246.0 L1024.1 1244.0 L1022.7 1242.0 L1021.4 1240.0 L1020.1 1238.0 L1018.9 1236.0 L1017.7 1234.0 L1016.5 1232.0 L1015.4 1230.0 L1014.3 1228.0 L1013.3 1226.0 L1012.3 1224.0 L1011.3 1222.0 L1010.3 1220.0 L1009.4 1218.0 L1008.5 1216.0 L1007.7 1214.0 L1006.9 1212.0 L1006.1 1210.0 L1005.3 1208.0 L1004.5 1206.0 L1003.8 1204.0 L1003.1 1202.0 L1002.5 1200.0 L1001.8 1198.0 L1001.2 1196.0 L1000.6 1194.0 L1000.0 1192.0 L999.5 1190.0 L998.9 1188.0 L998.4 1186.0 L998.0 1184.0 L997.5 1182.0 L997.0 1180.0 L996.6 1178.0 L996.2 1176.0 L995.8 1174.0 L995.5 1172.0 L995.1 1170.0 L994.8 1168.0 L994.5 1166.0 L994.2 1164.0 L994.0 1162.0 L993.7 1160.0 L993.5 1158.0 L993.3 1156.0 L993.1 1154.0 L993.0 1152.0 L992.8 1150.0 L992.7 1148.0 L992.6 1146.0 L992.5 1144.0 L992.4 1142.0 L992.4 1140.0 L992.3 1138.0 L992.3 1136.0 L992.3 1134.0 L992.3 1132.0 L992.3 1130.0 L992.4 1128.0 L992.4 1126.0 L992.5 1124.0 L992.6 1122.0 L992.6 1120.0 L992.7 1118.0 L992.9 1116.0 L993.0 1114.0 L993.1 1112.0 L993.3 1110.0 L993.4 1108.0 L993.6 1106.0 L993.8 1104.0 L994.0 1102.0 L994.2 1100.0 L994.4 1098.0 L994.7 1096.0 L994.9 1094.0 L995.2 1092.0 L995.5 1090.0 L995.8 1088.0 L996.1 1086.0 L996.4 1084.0 L996.7 1082.0 L997.1 1080.0 L997.4 1078.0 L997.8 1076.0 L998.2 1074.0 L998.6 1072.0 L999.0 1070.0 L999.5 1068.0 L999.9 1066.0 L1000.4 1064.0 L1000.9 1062.0 L1001.4 1060.0 L1001.9 1058.0 L1002.4 1056.0 L1003.0 1054.0 L1003.5 1052.0 L1004.1 1050.0 L1004.7 1048.0 L1005.3 1046.0 L1005.9 1044.0 L1006.6 1042.0 L1007.3 1040.0 L1008.0 1038.0 L1008.7 1036.0 L1009.4 1034.0 L1010.1 1032.0 L1010.9 1030.0 L1011.7 1028.0 L1012.5 1026.0 Z" fill="#fa9c1f"/>
<path d="M1446.5 819.5 C1446.8 824.6 1447.6 837.8 1448.0 850.0 C1448.4 862.2 1449.2 878.0 1449.0 893.0 C1448.8 908.0 1447.5 927.5 1447.0 940.0 C1446.5 952.5 1446.0 959.8 1446.0 968.0 C1446.0 976.2 1447.5 983.9 1447.0 989.3 C1446.5 994.7 1446.6 997.2 1443.2 1000.5 C1439.8 1003.8 1434.5 1006.4 1426.4 1008.9 C1418.3 1011.4 1406.2 1012.9 1394.7 1015.5 C1383.2 1018.1 1370.4 1024.1 1357.3 1024.4 C1344.2 1024.7 1328.4 1017.1 1316.3 1017.3 C1304.2 1017.5 1294.8 1024.8 1284.5 1025.7 C1274.2 1026.6 1264.3 1023.6 1254.7 1022.9 C1245.1 1022.2 1236.7 1020.4 1226.7 1021.4 C1216.7 1022.4 1207.7 1027.3 1194.9 1028.9 C1182.1 1030.5 1165.8 1030.6 1150.0 1031.0 C1134.2 1031.4 1116.7 1031.3 1100.0 1031.5 C1083.3 1031.7 1064.2 1031.9 1050.0 1032.0 C1035.8 1032.1 1024.5 1032.5 1015.0 1032.0 C1005.5 1031.5 1001.1 1030.3 992.7 1029.2 C984.3 1028.1 974.0 1026.5 964.7 1025.5 C955.4 1024.5 944.5 1022.9 936.7 1023.2 C928.9 1023.5 923.9 1025.8 918.0 1027.3 C912.1 1028.8 907.4 1032.0 901.2 1032.0 C895.0 1032.0 888.6 1029.3 880.7 1027.3 C872.8 1025.3 861.1 1020.4 853.6 1019.9 C846.1 1019.4 841.7 1023.3 835.9 1024.5 C830.1 1025.7 825.5 1027.5 819.0 1027.3 C812.5 1027.1 804.5 1024.8 796.7 1023.6 C788.9 1022.4 777.9 1020.4 772.4 1019.9 C766.9 1019.4 765.4 1021.4 763.5 1020.5 C761.6 1019.6 761.9 1019.4 761.2 1014.3 C760.5 1009.2 760.0 1005.7 759.3 990.0 C758.6 974.3 757.7 941.7 757.0 920.0 C756.3 898.3 755.7 876.8 755.0 860.0 C754.3 843.2 753.3 826.2 753.0 819.5 Z" fill="#efede3" stroke="#7a7a7a" stroke-width="3.6" stroke-linejoin="round"/>
<text x="1006" y="900.7" font-family="'Liberation Sans', Arial, sans-serif" font-style="italic" font-size="60" fill="#111" textLength="166" lengthAdjust="spacingAndGlyphs">anode</text>
<path d="M756.3 1310.0 C757.2 1302.2 757.4 1294.0 759.7 1288.5 C762.0 1283.0 766.0 1279.5 770.0 1277.2 C774.0 1275.0 776.3 1274.6 783.5 1275.0 C790.7 1275.4 803.5 1277.9 813.0 1279.5 C822.5 1281.1 830.4 1283.9 840.2 1284.5 C850.0 1285.1 861.4 1284.3 872.0 1282.9 C882.6 1281.5 893.9 1277.8 903.7 1276.1 C913.5 1274.4 919.6 1272.7 931.0 1272.7 C942.4 1272.7 962.7 1275.0 971.8 1276.1 C980.9 1277.2 981.2 1278.4 985.4 1279.5 C989.5 1280.6 991.4 1282.9 996.7 1282.9 C1002.0 1282.9 1009.2 1281.8 1017.1 1279.5 C1025.0 1277.2 1034.1 1272.3 1044.3 1269.3 C1054.5 1266.3 1067.0 1262.6 1078.3 1261.3 C1089.6 1260.0 1100.6 1261.4 1112.0 1261.5 C1123.4 1261.6 1137.5 1260.9 1146.6 1262.1 C1155.7 1263.3 1158.3 1267.0 1166.4 1268.7 C1174.5 1270.4 1185.5 1272.0 1195.0 1272.4 C1204.5 1272.8 1214.8 1271.6 1223.6 1270.9 C1232.4 1270.2 1240.5 1267.8 1247.8 1268.0 C1255.1 1268.2 1261.4 1270.6 1267.6 1272.0 C1273.8 1273.4 1278.6 1276.6 1285.2 1276.4 C1291.8 1276.2 1300.2 1272.2 1307.2 1270.9 C1314.2 1269.6 1320.0 1268.2 1327.0 1268.7 C1334.0 1269.2 1340.2 1271.0 1349.0 1274.2 C1357.8 1277.4 1371.0 1286.5 1379.8 1287.8 C1388.6 1289.1 1393.4 1283.4 1401.8 1281.9 C1410.2 1280.4 1422.7 1278.4 1430.4 1278.6 C1438.1 1278.8 1444.0 1280.4 1448.0 1283.0 C1452.0 1285.6 1453.1 1289.5 1454.6 1294.0 C1456.1 1298.5 1456.2 1299.0 1456.8 1310.0 C1457.4 1321.0 1457.7 1344.2 1458.0 1360.0 C1458.3 1375.8 1459.5 1395.2 1458.5 1404.7 C1457.5 1414.2 1458.4 1415.0 1452.0 1417.3 C1445.6 1419.6 1445.3 1418.3 1420.0 1418.6 C1394.7 1418.9 1336.7 1418.8 1300.0 1419.0 C1263.3 1419.2 1233.3 1419.3 1200.0 1419.5 C1166.7 1419.7 1133.3 1420.0 1100.0 1420.0 C1066.7 1420.0 1031.2 1419.7 1000.0 1419.8 C968.8 1419.9 938.0 1420.3 913.0 1420.5 C888.0 1420.7 873.0 1420.8 850.0 1421.0 C827.0 1421.2 790.7 1421.8 774.7 1421.5 C758.7 1421.2 757.8 1421.4 753.9 1419.5 C750.0 1417.6 751.6 1418.2 751.3 1410.0 C751.0 1401.8 751.5 1382.5 752.0 1370.0 C752.5 1357.5 753.3 1345.0 754.0 1335.0 C754.7 1325.0 755.3 1317.8 756.3 1310.0 Z" fill="#efede3" stroke="#7a7a7a" stroke-width="3.6" stroke-linejoin="round"/>
<path d="M1027 1012.3 L1184 1011.8 Q1193.5 1011.8 1193.5 1021.5 Q1193.5 1032.5 1184 1033 L1028 1035.5 Q1017.5 1036 1017.5 1024.5 Q1017.5 1012.3 1027 1012.3 Z" fill="#e5782a" stroke="#d2222b" stroke-width="3.6"/>
<path d="M1080.7 1260.3 C1082.4 1258.1 1089.0 1252.9 1093.3 1250.3 C1097.6 1247.7 1103.1 1245.6 1106.7 1244.7 C1110.3 1243.8 1111.4 1244.0 1114.7 1245.0 C1118.0 1246.0 1121.7 1248.1 1126.7 1251.0 C1131.7 1253.9 1142.5 1259.8 1144.7 1262.3 C1146.9 1264.8 1145.2 1265.2 1140.0 1265.7 C1134.8 1266.2 1121.1 1265.3 1113.3 1265.3 C1105.5 1265.3 1098.3 1266.0 1093.3 1265.7 C1088.3 1265.4 1085.4 1264.4 1083.3 1263.5 C1081.2 1262.6 1079.0 1262.5 1080.7 1260.3 Z" fill="#e5762a" stroke="#cc1f2a" stroke-width="4"/>
<line x1="1092" y1="1235" x2="1048.0" y2="1066.4" stroke="#000" stroke-width="3"/><path d="M1043 1047 L1057.2 1064.0 L1038.9 1068.7 Z" fill="#000"/>
<line x1="1110" y1="1233" x2="1110.0" y2="1065.0" stroke="#000" stroke-width="3"/><path d="M1110 1045 L1119.5 1065.0 L1100.5 1065.0 Z" fill="#000"/>
<line x1="1128" y1="1235" x2="1171.1" y2="1066.4" stroke="#000" stroke-width="3"/><path d="M1176 1047 L1180.3 1068.7 L1161.8 1064.0 Z" fill="#000"/>
<text x="0" y="0" transform="translate(1019.5,1209.5) skewX(-9)" font-family="'Liberation Sans', Arial, sans-serif" font-style="italic" font-size="54" fill="#111">e</text>
<text x="1050.5" y="1189.5" font-family="'Liberation Sans', Arial, sans-serif" font-size="32" font-weight="bold" fill="#111" textLength="14" lengthAdjust="spacingAndGlyphs">-</text>
<path d="M1012.5 1135.3 C1010 1125 1006 1118 1003 1118.3 C996 1118 990 1153 984.3 1153 C978 1153 972 1118 966.7 1118.3 C960 1118 954 1153 947.5 1153 C942 1153 944 1131 930 1128 C925 1127 918 1126.5 912 1126.3" fill="none" stroke="#000" stroke-width="3.4"/>
<path d="M891 1126 L924 1109 L911 1126.3 L924 1143 Z" fill="#000"/>
<path d="M1200.2 1135.8 C1203 1125 1208 1118 1212.2 1117.8 C1220 1118 1228 1154.4 1236.8 1154.4 C1245 1154.4 1252 1119 1259.6 1119 C1268 1119 1276 1154.4 1284.8 1154.4 C1292 1154 1288 1132 1305 1128.5 C1315 1126.5 1328 1125.8 1338 1125.6" fill="none" stroke="#000" stroke-width="3.4"/>
<path d="M1357.4 1125.6 L1324.4 1110 L1337 1125.6 L1324.4 1142.4 Z" fill="#000"/>
<text x="866" y="1098" font-family="'DejaVu Math TeX Gyre', 'Liberation Serif', serif" font-style="italic" font-size="62" fill="#111" textLength="60" lengthAdjust="spacingAndGlyphs">hν</text>
<text x="1259" y="1105.2" font-family="'DejaVu Math TeX Gyre', 'Liberation Serif', serif" font-style="italic" font-size="62" fill="#111" textLength="60" lengthAdjust="spacingAndGlyphs">hν</text>
<text x="1323.5" y="1234.4" font-family="'Liberation Serif', 'Times New Roman', serif" font-weight="bold" font-size="74" fill="#000" textLength="86" lengthAdjust="spacingAndGlyphs">III</text>
<rect x="790" y="1222.2" width="11.4" height="30.4" fill="#000"/><rect x="875.2" y="1222.2" width="11.4" height="30.4" fill="#000"/><rect x="795" y="1230.6" width="86" height="11.4" fill="#000"/>
<text x="771.5" y="1210.8" font-family="'Liberation Sans', Arial, sans-serif" font-size="46" fill="#111" textLength="149" lengthAdjust="spacingAndGlyphs">100 nm</text>
<rect x="773.6" y="1311.5" width="105.6" height="98.2" fill="#fff" stroke="#7f7f7f" stroke-width="2.5"/>
<text x="791" y="1383" font-family="'Liberation Sans', Arial, sans-serif" font-size="62" fill="#000" textLength="75" lengthAdjust="spacingAndGlyphs">(c)</text>
<text x="1005" y="1386.8" font-family="'Liberation Sans', Arial, sans-serif" font-style="italic" font-size="60" fill="#111" textLength="212" lengthAdjust="spacingAndGlyphs">cathode</text>
</svg>
</body></html>
